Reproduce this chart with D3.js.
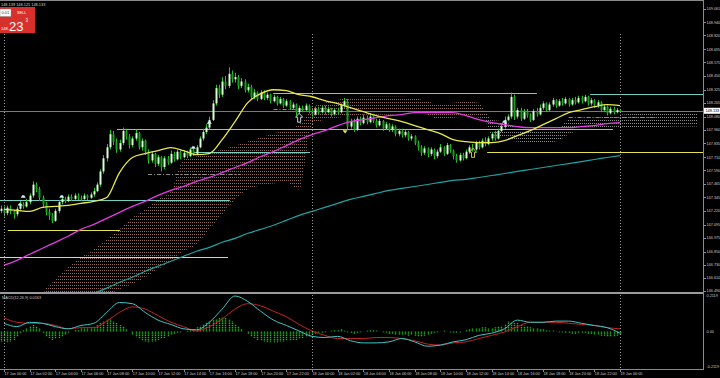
<!DOCTYPE html>
<html>
<head>
<meta charset="utf-8">
<title>USDJPY M15</title>
<script src="https://cdn.jsdelivr.net/npm/d3@7/dist/d3.min.js"></script>
<style>
  body { margin: 0; background: #000; }
  svg { display: block; }
  text { font-family: "Liberation Sans", Arial, sans-serif; }
</style>
</head>
<body>
<svg id="chart"></svg>
<script>
// 1. 数据 (M15 bars, first one is 16 Jan 23:45, opens = previous close)
var firstOpen = 147.22;
var closes = [147.24,
  147.20,147.25,147.22,147.19, 147.24,147.28,147.26,147.30, 147.36,147.46,147.42,147.34, 147.28,147.21,147.18,147.13,
  147.22,147.30,147.33,147.31, 147.35,147.33,147.36,147.34, 147.33,147.36,147.34,147.37, 147.40,147.46,147.58,147.70,
  147.80,147.92,147.85,147.78, 147.84,147.95,147.90,147.82, 147.88,147.93,147.80,147.86, 147.76,147.68,147.74,147.65,
  147.71,147.62,147.70,147.66, 147.74,147.69,147.76,147.71, 147.75,147.72,147.78,147.74, 147.80,147.88,147.94,147.98,
  148.05,148.20,148.34,148.28, 148.40,148.36,148.47,148.42, 148.44,148.36,148.40,148.32, 148.35,148.26,148.30,148.24,
  148.30,148.25,148.28,148.22, 148.26,148.20,148.24,148.18, 148.22,148.16,148.19,148.12, 148.16,148.14,148.18,148.13,
  148.10,148.15,148.12,148.16, 148.12,148.15,148.10,148.14, 148.12,148.18,148.22,147.99, 148.04,147.96,148.06,148.02,
  148.07,148.03,148.08,148.04, 148.00,148.04,147.97,148.01, 147.96,147.99,147.92,147.95, 147.91,147.94,147.88,147.90,
  147.84,147.80,147.75,147.79, 147.74,147.78,147.72,147.76, 147.80,147.74,147.82,147.77, 147.72,147.68,147.73,147.70,
  147.76,147.80,147.78,147.84, 147.80,147.86,147.83,147.88, 147.92,147.88,147.95,147.99, 148.05,148.08,148.26,148.08,
  148.14,148.06,148.12,148.09, 148.05,148.13,148.10,148.16, 148.20,148.14,148.19,148.23, 148.18,148.22,148.20,148.24,
  148.19,148.23,148.21,148.25, 148.22,148.26,148.20,148.23, 148.18,148.21,148.14,148.17, 148.11,148.15,148.12,148.14,
  148.133];
var highs = [147.27,
  147.26,147.27,147.27,147.23, 147.26,147.31,147.30,147.33, 147.38,147.49,147.48,147.44, 147.36,147.30,147.24,147.20,
  147.24,147.32,147.36,147.35, 147.37,147.37,147.38,147.38, 147.36,147.38,147.37,147.39, 147.43,147.48,147.60,147.73,
  147.83,147.96,147.95,147.88, 147.87,147.98,147.97,147.92, 147.90,147.96,147.94,147.88, 147.87,147.78,147.76,147.75,
  147.73,147.72,147.72,147.72, 147.77,147.76,147.78,147.77, 147.77,147.77,147.80,147.79, 147.82,147.90,147.97,148.01,
  148.08,148.23,148.37,148.37, 148.44,148.45,148.53,148.50, 148.48,148.46,148.43,148.42, 148.38,148.37,148.33,148.31,
  148.32,148.32,148.30,148.29, 148.28,148.27,148.26,148.25, 148.24,148.23,148.21,148.20, 148.18,148.18,148.20,148.19,
  148.15,148.17,148.17,148.18, 148.18,148.17,148.16,148.16, 148.16,148.20,148.25,148.24, 148.06,148.06,148.08,148.08,
  148.10,148.09,148.11,148.09, 148.06,148.06,148.05,148.03, 148.02,148.01,148.00,147.97, 147.97,147.96,147.95,147.92,
  147.91,147.86,147.82,147.81, 147.80,147.80,147.79,147.78, 147.83,147.81,147.84,147.83, 147.78,147.74,147.75,147.75,
  147.78,147.82,147.83,147.86, 147.86,147.88,147.89,147.90, 147.94,147.95,147.97,148.02, 148.08,148.10,148.30,148.28,
  148.16,148.16,148.15,148.15, 148.11,148.15,148.16,148.19, 148.22,148.21,148.21,148.25, 148.24,148.24,148.25,148.26,
  148.25,148.25,148.26,148.27, 148.27,148.28,148.27,148.25, 148.24,148.23,148.22,148.19, 148.18,148.17,148.17,148.16,
  148.139];
var lows = [147.20,
  147.17,147.18,147.19,147.15, 147.17,147.22,147.24,147.25, 147.28,147.34,147.39,147.31, 147.25,147.18,147.14,147.11,
  147.12,147.20,147.28,147.29, 147.30,147.31,147.32,147.32, 147.31,147.32,147.32,147.33, 147.35,147.39,147.44,147.56,
  147.67,147.78,147.82,147.75, 147.76,147.82,147.87,147.79, 147.80,147.86,147.78,147.77, 147.73,147.65,147.66,147.62,
  147.63,147.58,147.60,147.64, 147.65,147.67,147.68,147.69, 147.70,147.70,147.71,147.72, 147.73,147.79,147.86,147.92,
  147.96,148.04,148.18,148.25, 148.26,148.33,148.34,148.39, 148.39,148.33,148.34,148.30, 148.30,148.24,148.24,148.22,
  148.23,148.23,148.23,148.20, 148.21,148.18,148.19,148.16, 148.17,148.14,148.14,148.09, 148.11,148.12,148.13,148.11,
  148.08,148.09,148.10,148.11, 148.10,148.11,148.08,148.09, 148.10,148.11,148.16,147.96, 147.97,147.94,147.95,148.00,
  148.01,148.01,148.02,148.02, 147.98,147.99,147.95,147.96, 147.94,147.94,147.90,147.90, 147.89,147.89,147.86,147.86,
  147.82,147.77,147.72,147.73, 147.71,147.72,147.69,147.70, 147.75,147.72,147.73,147.75, 147.69,147.66,147.67,147.68,
  147.69,147.74,147.76,147.77, 147.78,147.79,147.81,147.82, 147.86,147.86,147.87,147.94, 147.97,148.04,148.06,148.05,
  148.06,148.04,148.05,148.07, 148.03,148.04,148.08,148.09, 148.14,148.12,148.13,148.17, 148.16,148.17,148.18,148.19,
  148.17,148.18,148.19,148.20, 148.20,148.21,148.18,148.18, 148.16,148.16,148.12,148.12, 148.09,148.10,148.10,148.11,
  148.121];

// moving averages, one value per hour (17 Jan 00:00 .. 19 Jan 00:00)
var yellowMA = [147.234,147.225,147.216,147.252,147.261,147.270,147.289,147.307,147.343,147.570,147.707,147.743,147.770,
  147.798,147.770,147.734,147.743,147.870,148.034,148.207,148.289,148.325,148.316,148.280,148.261,148.225,148.198,148.161,
  148.125,148.089,148.061,148.034,147.998,147.961,147.925,147.870,147.852,147.843,147.843,147.861,147.907,147.952,148.007,
  148.061,148.116,148.143,148.170,148.189,148.180];
var magentaMA = [146.725,146.770,146.825,146.880,146.934,146.989,147.052,147.098,147.152,147.207,147.261,147.307,147.361,
  147.407,147.443,147.489,147.525,147.570,147.616,147.661,147.716,147.761,147.816,147.870,147.916,147.952,147.998,148.034,
  148.052,148.070,148.089,148.098,148.116,148.116,148.116,148.116,148.089,148.052,148.025,148.007,147.989,147.979,147.979,
  147.979,147.979,147.989,147.998,148.016,148.025];
var tealMA = [146.108,146.163,146.218,146.272,146.327,146.380,146.425,146.470,146.516,146.570,146.616,146.670,146.716,
  146.761,146.807,146.852,146.888,146.934,146.970,147.016,147.052,147.089,147.134,147.180,147.216,147.252,147.289,147.325,
  147.352,147.380,147.407,147.425,147.443,147.461,147.480,147.498,147.507,147.525,147.543,147.561,147.580,147.598,147.616,
  147.634,147.652,147.670,147.689,147.707,147.725];

// ichimoku cloud, hourly from 17 Jan 03:00 (from 18 Jan 14:00 span B is on top)
var cloudStartHour = 3;
var spanA = [146.489,146.598,146.707,146.798,146.870,146.961,147.052,147.161,147.234,147.325,147.398,147.689,147.716,
  147.752,147.780,147.816,147.852,147.889,147.925,147.961,148.007,148.161,148.207,148.234,148.252,148.261,148.261,148.261,
  148.261,148.252,148.216,148.198,148.207,148.216,148.207,147.916,147.889,147.852,147.843,147.843,147.852,147.916,
  147.961,147.961,147.979,147.979,147.979,147.979,147.979,147.989,147.989,147.989];
var spanB = [146.489,146.461,146.434,146.416,146.416,146.452,146.507,146.552,146.616,146.689,146.761,146.852,146.916,
  147.052,147.189,147.325,147.416,147.452,147.470,147.480,147.416,148.007,148.052,148.070,148.089,148.098,148.098,148.098,
  148.116,148.125,148.098,148.052,148.070,148.080,148.070,148.052,148.034,147.979,147.961,147.961,147.961,148.052,
  148.070,148.070,148.080,148.098,148.107,148.116,148.125,148.125,148.125,148.125];

// MACD sub window: lines hourly, histogram per bar
var macdLine = [0.049,0.029,0.055,0.049,0.029,0.016,0.036,0.049,0.114,0.173,0.166,0.114,0.068,0.042,0.016,0.010,0.055,
  0.134,0.212,0.179,0.121,0.068,0.036,0.003,-0.029,-0.036,-0.029,-0.055,-0.068,-0.068,-0.062,-0.042,-0.062,-0.088,-0.081,
  -0.062,-0.049,-0.023,-0.010,0.016,0.068,0.055,0.055,0.062,0.062,0.049,0.036,0.023,-0.010];
var signalLine = [0.081,0.055,0.049,0.049,0.036,0.016,0.023,0.023,0.062,0.114,0.147,0.134,0.095,0.055,0.029,0.003,0.029,
  0.075,0.134,0.166,0.153,0.121,0.088,0.042,0.003,-0.023,-0.042,-0.042,-0.042,-0.036,-0.036,-0.042,-0.055,-0.075,-0.081,
  -0.068,-0.062,-0.042,-0.023,-0.003,0.029,0.055,0.055,0.055,0.049,0.042,0.036,0.023,0.016];
var osma = [-0.06,
  -0.06,-0.065,-0.06,-0.05, -0.03,-0.01,0.01,0.02, 0.03,0.04,0.03,0.02, -0.01,-0.03,-0.04,-0.05,
  -0.045,-0.04,-0.03,-0.02, -0.01,0.0,0.01,0.01, 0.02,0.02,0.02,0.025, 0.03,0.04,0.05,0.06,
  0.07,0.075,0.06,0.05, 0.04,0.03,0.015,0.0, -0.02,-0.035,-0.045,-0.055, -0.06,-0.065,-0.06,-0.06,
  -0.05,-0.045,-0.04,-0.03, -0.02,-0.015,-0.01,-0.005, 0.0,0.005,0.01,0.015, 0.025,0.035,0.045,0.055,
  0.06,0.07,0.075,0.08, 0.085,0.08,0.07,0.06, 0.045,0.03,0.015,0.0, -0.015,-0.03,-0.04,-0.05,
  -0.055,-0.06,-0.065,-0.065, -0.065,-0.065,-0.06,-0.06, -0.055,-0.055,-0.05,-0.05, -0.045,-0.04,-0.035,-0.03,
  -0.02,-0.015,-0.01,-0.01, -0.005,0.0,0.005,0.01, 0.01,0.015,0.005,-0.005, -0.01,-0.015,-0.01,-0.005,
  0.0,0.005,0.01,0.01, 0.005,0.0,-0.005,-0.01, -0.015,-0.015,-0.02,-0.02, -0.02,-0.02,-0.025,-0.02,
  -0.025,-0.03,-0.03,-0.025, -0.02,-0.015,-0.01,-0.005, 0.0,0.005,0.0,-0.005, -0.01,-0.01,-0.005,0.0,
  0.01,0.015,0.02,0.02, 0.02,0.025,0.025,0.02, 0.02,0.025,0.03,0.035, 0.045,0.06,0.055,0.05,
  0.05,0.04,0.035,0.03, 0.025,0.02,0.02,0.015, 0.015,0.01,0.005,0.005, 0.0,-0.005,-0.005,-0.01,
  -0.01,-0.015,-0.015,-0.01, -0.01,-0.01,-0.015,-0.015, -0.02,-0.02,-0.025,-0.025, -0.03,-0.03,-0.03,-0.025,
  -0.02];

// horizontal objects (price, first bar, last bar, kind)
var levelPrices = [147.316, 147.970, 147.761, 148.298, 148.289, 147.043, 146.798, 147.761, 147.561, 148.152, 148.080];
var levelFrom   = [-2, 35.2, 58.9, 83.9, 182.7, 1.2, -2, 150.6, 44.9, 84, 176];
var levelTo     = [70.4, 189.8, 95.4, 166.1, 240, 36.2, 69.8, 240, 73.6, 95.4, 204];
var levelKind   = ["teal", "teal", "teal", "teal", "teal", "yellow", "yellow", "yellow", "dash", "dash", "dash"];

// fractal marks and signal arrows (bar, price)
var fractalBars = [5, 6, 18, 59, 64, 156];
var fractalPrices = [147.28, 147.352, 147.352, 147.798, 148.025, 148.034];
var upArrowBars = [92, 146.2];
var upArrowPrices = [148.07, 147.75];
var upArrowKind = ["white", "yellow"];
var downMarkBars = [106.3];
var downMarkPrices = [147.943];

// axis labels
var priceTicks = ["149.061","148.940","148.820","148.695","148.575","148.450","148.325","148.205","148.080","147.960",
  "147.835","147.710","147.590","147.465","147.345","147.220","147.095","146.975","146.850","146.730","146.610","146.490"];
var macdTicks = ["0.2119", "0.00", "-0.2119"];
var timeLabels = ["17 Jan 00:00","17 Jan 02:00","17 Jan 04:00","17 Jan 06:00","17 Jan 08:00","17 Jan 10:00",
  "17 Jan 12:00","17 Jan 14:00","17 Jan 16:00","17 Jan 18:00","17 Jan 20:00","17 Jan 22:00","18 Jan 00:00",
  "18 Jan 02:00","18 Jan 04:00","18 Jan 06:00","18 Jan 08:00","18 Jan 10:00","18 Jan 12:00","18 Jan 14:00",
  "18 Jan 16:00","18 Jan 18:00","18 Jan 20:00","18 Jan 22:00","19 Jan 00:00"];
var bidPrice = 148.133;

// 2. 尺寸和比例尺
var width = 720, height = 378;
var plotRight = 703;
var mainBottom = 292, subTop = 294, subBottom = 369;

var svg = d3.select("#chart").attr("width", width).attr("height", height);
svg.append("rect").attr("width", width).attr("height", height).attr("fill", "#000");

var x = d3.scaleLinear().domain([0, 192]).range([4, 620]);
var y = d3.scaleLinear().domain([146.490, 149.061]).range([291, 9]);
var ym = d3.scaleLinear().domain([-0.2119, 0.2119]).range([367, 296]);

var defs = svg.append("defs");
defs.append("clipPath").attr("id", "clipMain")
  .append("rect").attr("x", 0).attr("y", 1).attr("width", plotRight).attr("height", mainBottom - 1);
defs.append("clipPath").attr("id", "clipSub")
  .append("rect").attr("x", 0).attr("y", subTop).attr("width", plotRight).attr("height", subBottom - subTop);

function dotPattern(id, color) {
  var p = defs.append("pattern").attr("id", id).attr("patternUnits", "userSpaceOnUse")
    .attr("width", 2).attr("height", 3);
  p.append("rect").attr("x", 0).attr("y", 0).attr("width", 1).attr("height", 1).attr("fill", color);
}
dotPattern("dotsUp", "#94685a");
dotPattern("dotsDown", "#8e8e8e");

var main = svg.append("g").attr("clip-path", "url(#clipMain)");
var sub = svg.append("g").attr("clip-path", "url(#clipSub)");

// 3. 云 (ichimoku)
var cloud = spanA.map(function(a, i) {
  return { bar: (cloudStartHour + i) * 4, a: a, b: spanB[i] };
});
main.append("path").datum(cloud)
  .attr("fill", "url(#dotsUp)")
  .attr("d", d3.area().curve(d3.curveMonotoneX)
    .x(function(d) { return x(d.bar); })
    .y0(function(d) { return y(d.b); })
    .y1(function(d) { return y(Math.max(d.a, d.b)); }));
main.append("path").datum(cloud)
  .attr("fill", "url(#dotsDown)")
  .attr("d", d3.area().curve(d3.curveMonotoneX)
    .x(function(d) { return x(d.bar); })
    .y0(function(d) { return y(d.a); })
    .y1(function(d) { return y(Math.max(d.a, d.b)); }));

// 4. 水平线
var levelColor = { teal: "#72d2c2", yellow: "#e2e252", dash: "#8c8c8c" };
var levels = levelPrices.map(function(p, i) {
  return { p: p, from: levelFrom[i], to: levelTo[i], kind: levelKind[i] };
});
main.selectAll(".level").data(levels).enter().append("line")
  .attr("class", "level")
  .attr("x1", function(d) { return x(d.from); })
  .attr("x2", function(d) { return x(d.to); })
  .attr("y1", function(d) { return Math.round(y(d.p)) + 0.5; })
  .attr("y2", function(d) { return Math.round(y(d.p)) + 0.5; })
  .attr("stroke", function(d) { return levelColor[d.kind]; })
  .attr("stroke-width", 1)
  .attr("stroke-dasharray", function(d) { return d.kind === "dash" ? "4,2,1,2" : null; });

// bid line
main.append("line")
  .attr("x1", 0).attr("x2", plotRight)
  .attr("y1", Math.round(y(bidPrice)) + 0.5).attr("y2", Math.round(y(bidPrice)) + 0.5)
  .attr("stroke", "#7a7a7a");

// period separators
[0, 96, 192].forEach(function(b) {
  svg.append("line")
    .attr("x1", Math.round(x(b)) + 0.5).attr("x2", Math.round(x(b)) + 0.5)
    .attr("y1", 34).attr("y2", subBottom)
    .attr("stroke", "#9a9a9a").attr("stroke-dasharray", "1,2");
});

// 5. 蜡烛
var bars = closes.map(function(c, i) {
  return { bar: i - 1, o: i === 0 ? firstOpen : closes[i - 1], h: highs[i], l: lows[i], c: c };
});
var candle = main.selectAll(".candle").data(bars).enter().append("g").attr("class", "candle");
candle.append("line")
  .attr("x1", function(d) { return Math.round(x(d.bar)) + 0.5; })
  .attr("x2", function(d) { return Math.round(x(d.bar)) + 0.5; })
  .attr("y1", function(d) { return y(d.h); })
  .attr("y2", function(d) { return y(d.l); })
  .attr("stroke", "#22c322");
candle.append("rect")
  .attr("x", function(d) { return Math.round(x(d.bar)) - 0.5; })
  .attr("y", function(d) { return y(Math.max(d.o, d.c)); })
  .attr("width", 2)
  .attr("height", function(d) { return Math.max(1, Math.abs(y(d.o) - y(d.c))); })
  .attr("fill", function(d) { return d.c >= d.o ? "#d6ffd6" : "#1a9e1a"; });

// 6. 均线
function hourLine(values, color, w) {
  main.append("path").datum(values)
    .attr("fill", "none").attr("stroke", color).attr("stroke-width", w)
    .attr("d", d3.line().curve(d3.curveMonotoneX)
      .x(function(d, i) { return x(i * 4); })
      .y(function(d) { return y(d); }));
}
hourLine(tealMA, "#1fa3a3", 1.2);
hourLine(magentaMA, "#e23ce2", 1.3);
hourLine(yellowMA, "#e8e84a", 1.3);

// 7. 标记
main.selectAll(".fractal").data(fractalBars).enter().append("path")
  .attr("class", "fractal")
  .attr("transform", function(d, i) { return "translate(" + x(d) + "," + y(fractalPrices[i]) + ")"; })
  .attr("d", "M-2.5,1.2 L-1,-1.2 L1,-1.2 L2.5,1.2 Z")
  .attr("fill", "#cfeff0");

main.selectAll(".uparrow").data(upArrowBars).enter().append("path")
  .attr("class", "uparrow")
  .attr("transform", function(d, i) { return "translate(" + x(d) + "," + y(upArrowPrices[i]) + ")"; })
  .attr("d", "M0,-4.5 L3.5,-0.5 L1.5,-0.5 L1.5,4.5 L-1.5,4.5 L-1.5,-0.5 L-3.5,-0.5 Z")
  .attr("fill", "none")
  .attr("stroke", function(d, i) { return upArrowKind[i] === "yellow" ? "#e8e84a" : "#d8f0f0"; })
  .attr("stroke-width", 0.9);

main.selectAll(".downmark").data(downMarkBars).enter().append("path")
  .attr("class", "downmark")
  .attr("transform", function(d, i) { return "translate(" + x(d) + "," + y(downMarkPrices[i]) + ")"; })
  .attr("d", "M-2.5,-1.5 L2.5,-1.5 L0,1.8 Z")
  .attr("fill", "#e8e84a");

// 8. MACD 子窗口
sub.selectAll(".hist").data(osma).enter().append("line")
  .attr("class", "hist")
  .attr("x1", function(d, i) { return Math.round(x(i - 1)) + 0.5; })
  .attr("x2", function(d, i) { return Math.round(x(i - 1)) + 0.5; })
  .attr("y1", ym(0))
  .attr("y2", function(d) { return ym(d); })
  .attr("stroke", "#1fb41f")
  .attr("stroke-width", 1.5)
  .attr("stroke-dasharray", "1.2,0.6");

function subLine(values, color) {
  sub.append("path").datum(values)
    .attr("fill", "none").attr("stroke", color).attr("stroke-width", 1)
    .attr("d", d3.line().curve(d3.curveMonotoneX)
      .x(function(d, i) { return x(i * 4); })
      .y(function(d) { return ym(d); }));
}
subLine(signalLine, "#c42424");
subLine(macdLine, "#3ec6c6");

svg.append("text").attr("x", 2).attr("y", 299)
  .attr("fill", "#c8c8c8").attr("font-size", 3.8)
  .text("MACD(12,26,9) 0.0163");

// 9. 边框和坐标轴
var frame = "#8a8a8a";
svg.append("line").attr("x1", 0).attr("x2", plotRight).attr("y1", 0.5).attr("y2", 0.5).attr("stroke", frame);
svg.append("rect").attr("x", 0).attr("y", mainBottom).attr("width", plotRight).attr("height", subTop - mainBottom)
  .attr("fill", "#9a9a9a");
svg.append("line").attr("x1", 0).attr("x2", plotRight + 0.5).attr("y1", subBottom + 0.5).attr("y2", subBottom + 0.5)
  .attr("stroke", frame);
svg.append("line").attr("x1", plotRight + 0.5).attr("x2", plotRight + 0.5).attr("y1", 0).attr("y2", subBottom + 1)
  .attr("stroke", frame);

var priceAxis = svg.append("g");
priceAxis.selectAll("line").data(priceTicks).enter().append("line")
  .attr("x1", plotRight).attr("x2", plotRight + 3)
  .attr("y1", function(d) { return Math.round(y(+d)) + 0.5; })
  .attr("y2", function(d) { return Math.round(y(+d)) + 0.5; })
  .attr("stroke", frame);
priceAxis.selectAll("text").data(priceTicks).enter().append("text")
  .attr("x", plotRight + 3.5)
  .attr("y", function(d) { return y(+d) + 1.4; })
  .attr("fill", "#c8c8c8").attr("font-size", 3.8)
  .text(function(d) { return d; });

var macdAxis = svg.append("g");
macdAxis.selectAll("text").data(macdTicks).enter().append("text")
  .attr("x", plotRight + 3.5)
  .attr("y", function(d) { return ym(+d) + 1.4; })
  .attr("fill", "#c8c8c8").attr("font-size", 3.8)
  .text(function(d) { return d; });

// bid label
svg.append("rect").attr("x", plotRight + 1).attr("y", y(bidPrice) - 3).attr("width", 16).attr("height", 6)
  .attr("fill", "#ffffff");
svg.append("text").attr("x", plotRight + 2.5).attr("y", y(bidPrice) + 1.4)
  .attr("fill", "#000").attr("font-size", 3.8).text(bidPrice.toFixed(3));

var timeAxis = svg.append("g");
timeAxis.selectAll("line").data(timeLabels).enter().append("line")
  .attr("x1", function(d, i) { return Math.round(x(i * 8)) + 0.5; })
  .attr("x2", function(d, i) { return Math.round(x(i * 8)) + 0.5; })
  .attr("y1", subBottom).attr("y2", subBottom + 3)
  .attr("stroke", frame);
timeAxis.selectAll("text").data(timeLabels).enter().append("text")
  .attr("x", function(d, i) { return x(i * 8) + 0.5; })
  .attr("y", subBottom + 6)
  .attr("fill", "#c8c8c8").attr("font-size", 3.8)
  .text(function(d) { return d; });

// 10. 标题和一键交易面板
svg.append("text").attr("x", 1).attr("y", 5.5)
  .attr("fill", "#d0d0d0").attr("font-size", 3.9)
  .text("148.139 148.121 148.133");
svg.append("rect").attr("x", 0).attr("y", 7).attr("width", 35).attr("height", 26).attr("fill", "#d8302a");
svg.append("rect").attr("x", 0).attr("y", 9).attr("width", 11).attr("height", 7.5)
  .attr("fill", "#ffffff").attr("stroke", "#888").attr("stroke-width", 0.5);
svg.append("text").attr("x", 1.5).attr("y", 14.3).attr("fill", "#333").attr("font-size", 4).text("0.01");
svg.append("text").attr("x", 17).attr("y", 13.5).attr("fill", "#fff").attr("font-size", 3.8).text("SELL");
svg.append("text").attr("x", 1).attr("y", 29.5).attr("fill", "#fff").attr("font-size", 4).text("148.");
svg.append("text").attr("x", 9).attr("y", 30.5).attr("fill", "#fff").attr("font-size", 13).text("23");
svg.append("text").attr("x", 25.5).attr("y", 22).attr("fill", "#fff").attr("font-size", 4.5).text("3");
</script>
</body>
</html>
